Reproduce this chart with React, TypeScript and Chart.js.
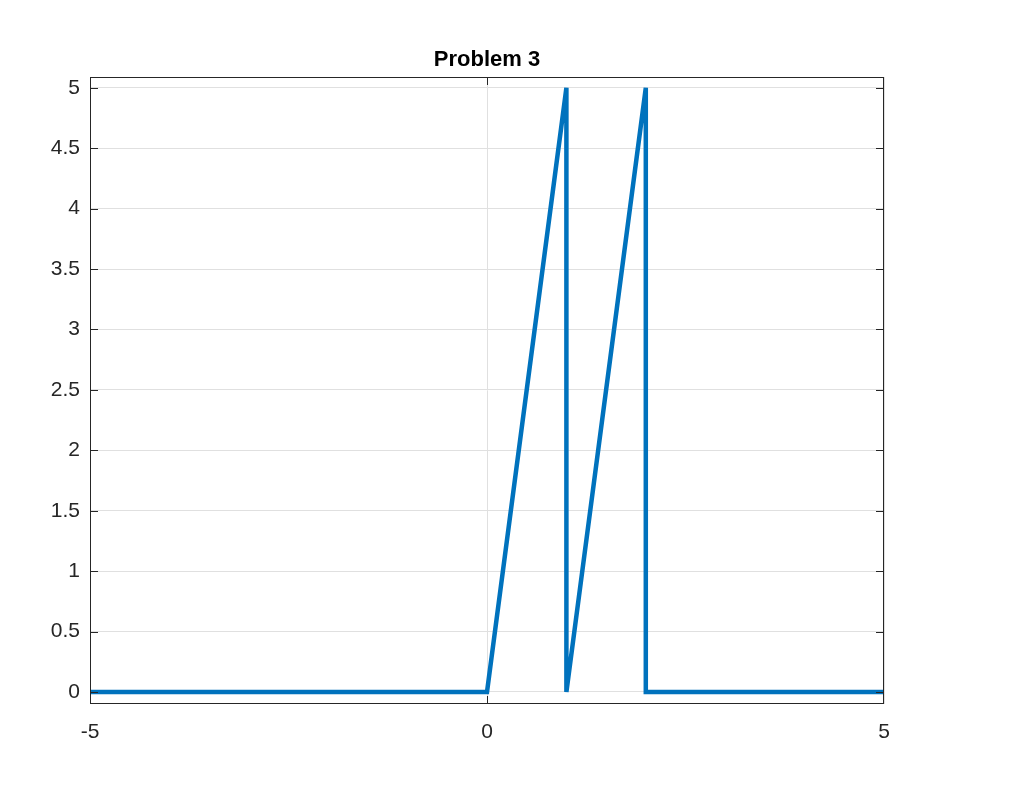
import { useEffect, useRef } from "react";
import { Chart, registerables } from "chart.js";

Chart.register(...registerables);

// signal samples (x, y)
const xValues = [-5, 0, 1, 1, 2, 2, 5];
const yValues = [0, 0, 5, 0, 5, 0, 0];

const xTicks = [-5, 0, 5];
const yTicks = [0, 0.5, 1, 1.5, 2, 2.5, 3, 3.5, 4, 4.5, 5];

const titleText = "Problem 3";
const AXIS = "#262626";
const FONT = "Arial, 'Liberation Sans', Helvetica, sans-serif";

// draws title, box and inward ticks like a MATLAB axes
const boxPlugin = {
  id: "matlabBox",
  afterDraw(chart: any) {
    const { ctx, chartArea } = chart;
    const { left, right, top, bottom } = chartArea;
    const xs = chart.scales.x;
    const ys = chart.scales.y;
    ctx.save();
    ctx.strokeStyle = AXIS;
    ctx.lineWidth = 1;
    ctx.strokeRect(left + 0.5, top + 0.5, right - left - 1, bottom - top - 1);
    const len = 8;
    ctx.beginPath();
    xTicks.forEach((v) => {
      const px = Math.min(Math.round(xs.getPixelForValue(v)), right - 1) + 0.5;
      ctx.moveTo(px, bottom);
      ctx.lineTo(px, bottom - len);
      ctx.moveTo(px, top);
      ctx.lineTo(px, top + len);
    });
    yTicks.forEach((v) => {
      const py = Math.round(ys.getPixelForValue(v)) + 0.5;
      ctx.moveTo(left, py);
      ctx.lineTo(left + len, py);
      ctx.moveTo(right, py);
      ctx.lineTo(right - len, py);
    });
    ctx.stroke();
    ctx.fillStyle = "#000";
    ctx.font = `bold 22px ${FONT}`;
    ctx.textAlign = "center";
    ctx.textBaseline = "alphabetic";
    ctx.fillText(titleText, (left + right) / 2, top - 11);
    ctx.restore();
  },
};

const App = () => {
  const canvasRef = useRef<HTMLCanvasElement | null>(null);
  const chartRef = useRef<Chart | null>(null);

  useEffect(() => {
    if (!canvasRef.current) return;
    if (chartRef.current) chartRef.current.destroy();

    chartRef.current = new Chart(canvasRef.current, {
      type: "scatter",
      data: {
        datasets: [
          {
            data: xValues.map((x, i) => ({ x, y: yValues[i] })),
            showLine: true,
            borderColor: "#0072BD",
            borderWidth: 4.5,
            pointRadius: 0,
            tension: 0,
          },
        ],
      },
      options: {
        animation: false,
        responsive: false,
        maintainAspectRatio: false,
        layout: { padding: { left: 0, right: 140, top: 77, bottom: 0 } },
        plugins: {
          legend: { display: false },
          title: { display: false },
          tooltip: { enabled: false },
        },
        scales: {
          x: {
            type: "linear",
            min: -5,
            max: 5,
            afterBuildTicks: (s: any) => {
              s.ticks = xTicks.map((v) => ({ value: v }));
            },
            afterFit: (s: any) => {
              s.height = 103;
            },
            border: { display: false },
            grid: { color: "#e0e0e0", lineWidth: 1, drawTicks: false },
            ticks: {
              color: AXIS,
              font: { family: FONT, size: 21 },
              padding: 16,
              maxRotation: 0,
              callback: (v: any) => String(v),
            },
          },
          y: {
            type: "linear",
            min: -0.1,
            max: 5.09,
            afterBuildTicks: (s: any) => {
              s.ticks = yTicks.map((v) => ({ value: v }));
            },
            afterFit: (s: any) => {
              s.width = 90;
            },
            border: { display: false },
            grid: { color: "#e0e0e0", lineWidth: 1, drawTicks: false },
            ticks: {
              color: AXIS,
              font: { family: FONT, size: 21 },
              padding: 10,
              callback: (v: any) => String(v),
            },
          },
        },
      },
      plugins: [boxPlugin],
    });

    return () => {
      chartRef.current?.destroy();
      chartRef.current = null;
    };
  }, []);

  return (
    <div
      style={{
        position: "absolute",
        left: 0,
        top: 0,
        width: 1024,
        height: 807,
        background: "#fff",
      }}
    >
      <canvas ref={canvasRef} width={1024} height={807} />
    </div>
  );
};

export default App;
